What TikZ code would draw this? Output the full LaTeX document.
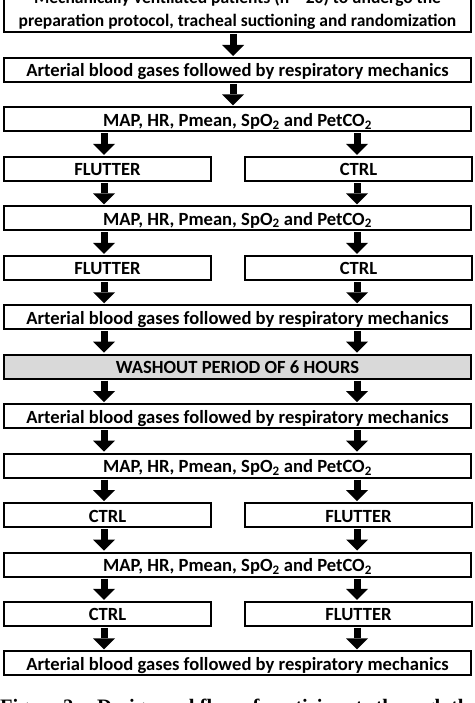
\documentclass[tikz,border=0pt]{standalone}
\usepackage{fontspec}
\setmainfont{Carlito}
\newfontfamily\captionfont{Liberation Serif}
\usetikzlibrary{arrows.meta, calc}
\definecolor{washgray}{HTML}{D9D9D9}

\tikzset{
  basebox/.style={draw, line width=2pt, minimum width=467pt, minimum height=24pt,
    inner sep=0pt, outer sep=0pt, font=\bfseries\fontsize{18.6}{23}\selectfont},
  fullbox/.style={basebox, text height=16pt, text depth=2pt},
  leftbox/.style={fullbox, minimum width=207.5pt},
  rightbox/.style={fullbox, minimum width=227.5pt},
  washbox/.style={fullbox, fill=washgray},
  blockarrow/.style={line width=7pt, -{Triangle[width=22pt, length=11pt, line width=0pt]},
    shorten <=2pt, shorten >=2pt},
}

\begin{document}
\begin{tikzpicture}[x=1pt, y=-1pt]
  \useasboundingbox (0,0) rectangle (474,703);
  \clip (0,0) rectangle (474,703);

  % arrow columns
  \coordinate (cc) at (233,0);
  \coordinate (cl) at (104,0);
  \coordinate (cr) at (357,0);

  % first period
  \node[basebox, align=center, anchor=south, inner ysep=3pt,
        font=\bfseries\fontsize{17.5}{23}\selectfont] (start) at (237.5,32)
    {Mechanically ventilated patients (n = 20) to undergo the\\preparation protocol, tracheal suctioning and randomization};
  \node[fullbox] (abg1) at (237.5,70) {Arterial blood gases followed by respiratory mechanics};
  \node[fullbox] (vit1) at (237.5,119.45) {MAP, HR, Pmean, SpO\textsubscript{2} and PetCO\textsubscript{2}};
  \node[leftbox] (arm1l) at (107.5,168.9) {FLUTTER};
  \node[rightbox] (arm1r) at (358.5,168.9) {CTRL};
  \node[fullbox] (vit2) at (237.5,218.35) {MAP, HR, Pmean, SpO\textsubscript{2} and PetCO\textsubscript{2}};
  \node[leftbox] (arm2l) at (107.5,267.8) {FLUTTER};
  \node[rightbox] (arm2r) at (358.5,267.8) {CTRL};
  \node[fullbox] (abg2) at (237.5,317.25) {Arterial blood gases followed by respiratory mechanics};

  % washout
  \node[washbox] (wash) at (237.5,366.7) {WASHOUT PERIOD OF 6 HOURS};

  % second period
  \node[fullbox] (abg3) at (237.5,416.15) {Arterial blood gases followed by respiratory mechanics};
  \node[fullbox] (vit3) at (237.5,465.6) {MAP, HR, Pmean, SpO\textsubscript{2} and PetCO\textsubscript{2}};
  \node[leftbox] (arm3l) at (107.5,515.05) {CTRL};
  \node[rightbox] (arm3r) at (358.5,515.05) {FLUTTER};
  \node[fullbox] (vit4) at (237.5,564.5) {MAP, HR, Pmean, SpO\textsubscript{2} and PetCO\textsubscript{2}};
  \node[leftbox] (arm4l) at (107.5,613.95) {CTRL};
  \node[rightbox] (arm4r) at (358.5,613.95) {FLUTTER};
  \node[fullbox] (abg4) at (237.5,663.4) {Arterial blood gases followed by respiratory mechanics};

  % caption (cut by the frame)
  \node[anchor=base west, inner sep=0pt, font=\captionfont\bfseries\fontsize{20.5}{24}\selectfont] (caption) at (0,713)
    {Figure 2 -- Design and flow of participants through the study};

  % arrows
  \draw[blockarrow] (start.south -| cc) -- (abg1.north -| cc);
  \draw[blockarrow] (abg1.south -| cc) -- (vit1.north -| cc);
  \foreach \a/\b in {vit1/arm1l, arm1l/vit2, vit2/arm2l, arm2l/abg2, abg2/wash, wash/abg3,
                     abg3/vit3, vit3/arm3l, arm3l/vit4, vit4/arm4l, arm4l/abg4}
    \draw[blockarrow] (\a.south -| cl) -- (\b.north -| cl);
  \foreach \a/\b in {vit1/arm1r, arm1r/vit2, vit2/arm2r, arm2r/abg2, abg2/wash, wash/abg3,
                     abg3/vit3, vit3/arm3r, arm3r/vit4, vit4/arm4r, arm4r/abg4}
    \draw[blockarrow] (\a.south -| cr) -- (\b.north -| cr);
\end{tikzpicture}
\end{document}
